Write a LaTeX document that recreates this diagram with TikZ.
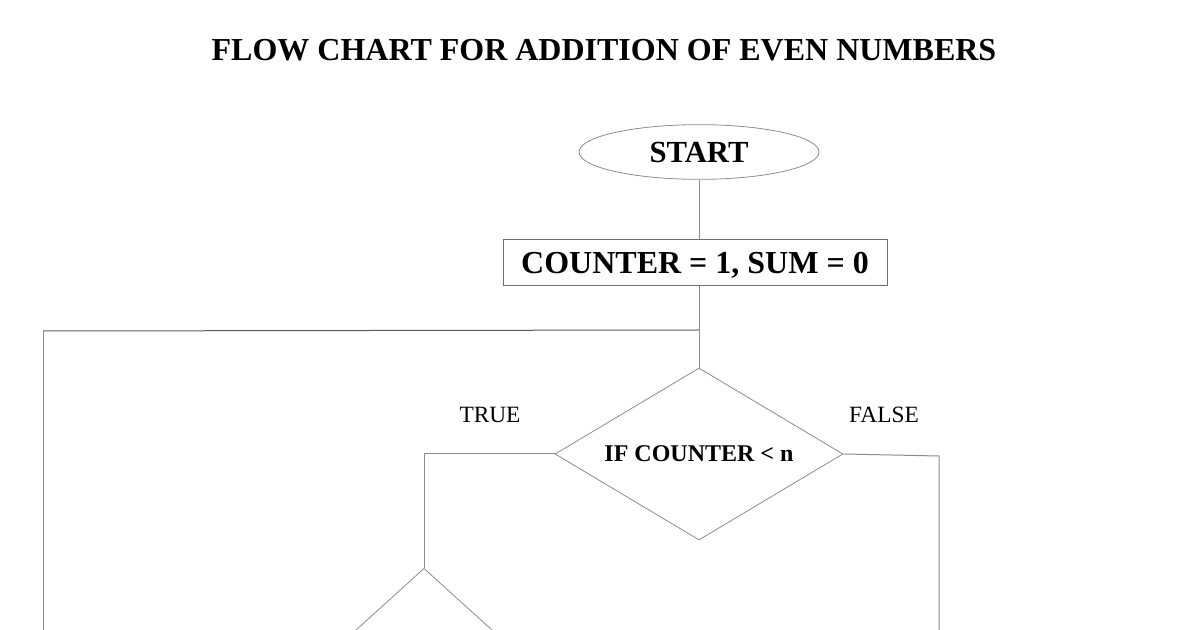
\documentclass[tikz,border=0pt]{standalone}
\usepackage{fontspec}
\setmainfont{Liberation Serif}
\usetikzlibrary{shapes.geometric}

\tikzset{
  flowline/.style={color={rgb, 255:red, 140; green, 140; blue, 140}, line width=0.75pt},
  loopline/.style={color={rgb, 255:red, 90; green, 90; blue, 90}, line width=0.75pt},
  startshape/.style={ellipse, draw={rgb, 255:red, 140; green, 140; blue, 140}, line width=0.6pt, inner sep=0pt, minimum width=180pt, minimum height=41pt},
  procbox/.style={rectangle, draw={rgb, 255:red, 110; green, 110; blue, 110}, line width=0.6pt, inner sep=0pt, minimum width=288pt, minimum height=34pt},
  testshape/.style={diamond, draw={rgb, 255:red, 140; green, 140; blue, 140}, line width=0.6pt, inner sep=0pt, shape aspect=1.67},
}

\begin{document}
\begin{tikzpicture}[x=0.75pt,y=0.75pt,yscale=-1,xscale=1]
\useasboundingbox (0,0) rectangle (1200,630);
\clip (0,0) rectangle (1200,630);

% Text Node
\draw (604,50) node [inner sep=0.75pt] (title) {\fontsize{24}{28}\selectfont\bfseries FLOW CHART FOR ADDITION OF EVEN NUMBERS};

%Shape: Ellipse
\draw (699,152) node [startshape, text depth=0pt] (start) {\fontsize{23}{27}\selectfont\bfseries START};
%Shape: Rectangle
\draw (695,262.5) node [procbox, text depth=0pt] (init) {\fontsize{24}{28}\selectfont\bfseries COUNTER = 1, SUM = 0};
%Shape: Diamond
\draw (699,454) node [testshape, text depth=0pt, minimum width=216pt, minimum height=129pt] (test) {\fontsize{18}{22}\selectfont\bfseries IF COUNTER < n};
%Shape: Diamond (lower, cut off)
\draw (424,713) node [testshape, shape aspect=1.1, minimum width=240pt, minimum height=217pt] (check) {};

% Text Node
\draw (490,415) node [inner sep=0.75pt] (truelbl) {\fontsize{17.5}{21}\selectfont TRUE};
% Text Node
\draw (884,415) node [inner sep=0.75pt] (falselbl) {\fontsize{17.5}{21}\selectfont FALSE};

\coordinate (join) at (699,330);
\coordinate (loopleft) at (43,331);
\coordinate (loopend) at (43,640);
\coordinate (trueturn) at (424,454);
\coordinate (falseturn) at (939,456);
\coordinate (falseend) at (939,640);

%Straight Lines
\draw [flowline] (start.south) -- (start.south |- init.north);
\draw [flowline] (test.north |- init.south) -- (test.north);
\draw [loopline] (join) -- (loopleft);
\draw [flowline] (loopleft) -- (loopend);
\draw [flowline] (test.west) -- (trueturn) -- (check.north);
\draw [flowline] (test.east) -- (falseturn) -- (falseend);

\end{tikzpicture}
\end{document}
